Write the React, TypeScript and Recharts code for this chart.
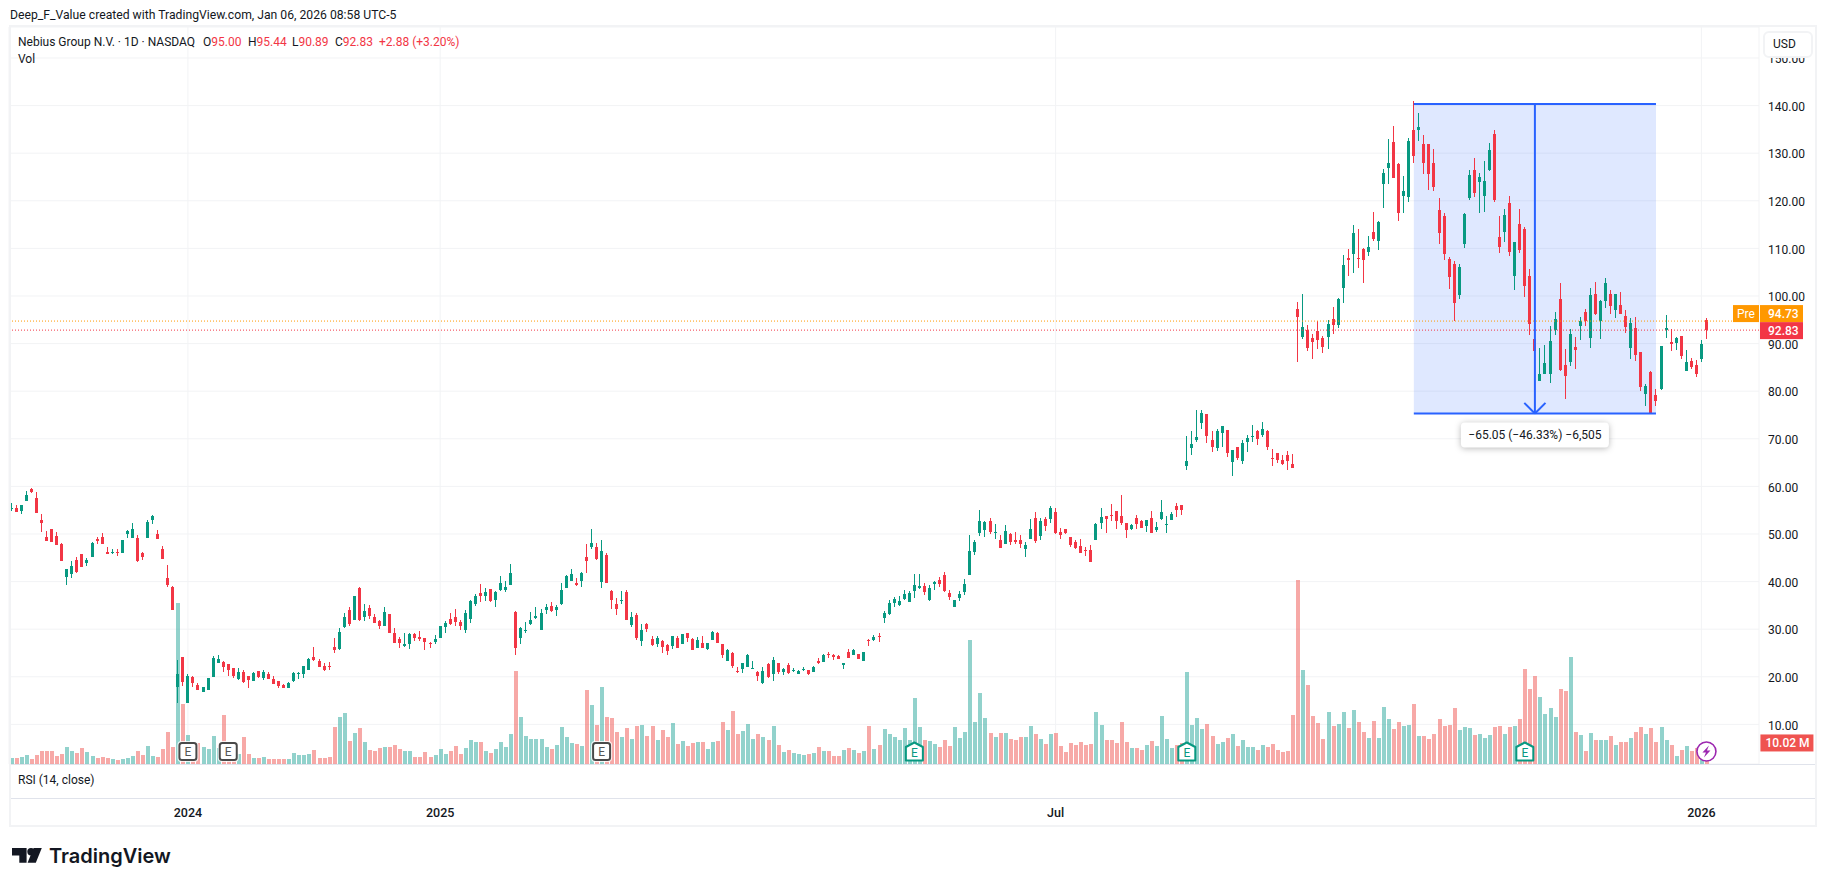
import { Bar, CartesianGrid, ComposedChart, ReferenceArea, ReferenceDot, ReferenceLine, XAxis, YAxis } from "recharts";

// [open, high, low, close], one row per trading day
const ohlc = [
  [55.2,56.5,54.9,55.5],[55.5,56.0,54.7,54.7],[54.8,56.1,54.1,56.1],[57.0,59.0,57.0,58.2],[59.5,59.6,58.6,58.8],
  [57.6,58.8,54.5,54.5],[52.95,54.1,50.5,52.3],[49.4,50.6,48.5,48.5],[51.1,51.1,48.3,48.3],[49.6,50.4,47.7,47.7],
  [47.9,48.05,44.3,44.4],[41.05,42.65,39.2,42.65],[41.5,44.3,40.85,43.3],[44.55,45.1,41.9,42.0],[45.8,45.8,43.15,43.15],
  [43.9,45.0,43.35,44.55],[45.25,48.25,45.25,48.1],[49.0,49.4,48.0,48.6],[49.4,50.15,48.0,48.0],[46.2,47.3,45.9,45.9],
  [46.1,46.85,45.7,46.3],[46.2,46.8,45.45,46.1],[46.1,48.75,46.1,48.75],[50.1,50.9,49.15,50.65],[49.25,52.3,49.25,51.05],
  [49.15,49.7,44.2,44.35],[46.0,46.2,44.6,45.15],[49.25,52.95,49.25,52.5],[52.95,54.0,52.0,53.8],[50.0,50.8,49.0,49.0],
  [46.85,47.5,44.75,44.85],[40.75,43.5,38.95,39.3],[38.95,39.1,34.1,34.1],[17.95,23.55,14.4,20.6],[24.2,24.2,18.15,19.0],
  [14.4,20.6,14.4,20.2],[20.0,20.2,17.95,18.7],[18.3,18.65,17.3,17.3],[16.9,17.9,16.9,17.9],[17.3,19.75,17.3,19.75],
  [20.05,24.4,20.05,24.0],[23.0,24.6,22.8,23.75],[23.1,23.25,21.1,22.15],[22.7,22.7,20.25,21.5],[21.85,21.85,19.75,20.2],
  [19.55,21.85,19.4,21.0],[21.0,21.45,18.8,19.0],[20.2,20.2,17.7,19.35],[19.2,21.0,19.15,20.8],[21.25,21.25,19.75,20.0],
  [19.75,21.45,19.4,21.0],[20.6,21.0,19.55,19.55],[19.55,20.2,18.55,18.55],[19.15,19.15,17.75,18.1],[18.3,18.45,17.75,17.75],
  [17.75,18.95,17.75,18.7],[19.15,21.0,19.0,20.8],[20.7,21.0,19.55,20.9],[20.6,22.3,19.75,22.3],[21.45,23.9,21.45,23.75],
  [24.2,26.3,23.35,23.55],[23.35,23.75,22.1,22.15],[22.3,22.9,21.3,21.45],[22.3,23.1,21.45,22.1],[26.3,28.2,25.0,25.65],
  [25.8,30.3,25.65,29.45],[30.5,33.35,30.3,32.6],[34.05,34.7,30.75,31.1],[31.95,37.0,31.95,37.0],[38.75,38.9,31.75,31.95],
  [32.6,35.3,31.75,33.85],[34.5,35.1,32.15,32.8],[32.6,33.2,31.3,31.3],[31.75,31.95,30.05,30.7],[30.7,34.7,30.7,33.65],
  [33.2,33.2,29.2,29.2],[29.2,30.3,27.1,27.1],[27.95,28.4,26.05,27.1],[26.5,29.1,26.3,26.9],[26.9,29.1,25.85,28.9],
  [29.0,29.2,27.55,28.15],[28.4,29.6,27.55,27.95],[28.15,28.15,25.65,27.35],[27.1,27.35,26.05,26.9],[27.35,28.8,26.9,27.95],
  [28.15,30.7,28.15,30.7],[30.5,31.75,29.2,31.3],[32.15,33.4,30.9,31.0],[32.55,34.25,30.7,31.5],[31.5,31.95,29.85,30.7],
  [29.85,34.05,29.2,33.4],[32.15,36.15,31.3,35.95],[35.3,37.4,34.9,37.0],[37.6,39.5,35.7,37.0],[37.0,38.65,35.95,37.8],
  [38.45,38.45,35.7,35.95],[36.15,38.0,34.7,37.8],[38.25,41.2,38.0,39.7],[38.25,40.1,37.8,38.85],[39.3,43.7,39.3,41.8],
  [33.6,33.85,24.6,26.05],[28.15,30.45,26.9,30.25],[29.65,31.5,29.2,29.85],[31.1,33.6,30.9,31.95],[32.35,34.65,32.15,32.8],
  [29.85,34.25,29.85,33.4],[34.05,35.3,33.2,34.65],[34.9,35.7,33.6,33.85],[34.05,35.1,32.8,34.65],[35.3,39.7,35.1,38.25],
  [38.65,41.4,38.65,41.2],[40.15,42.65,40.15,41.6],[39.7,40.75,39.1,39.3],[40.15,42.0,38.85,41.8],[45.15,47.9,41.8,44.3],
  [47.25,51.05,46.85,48.1],[47.25,48.1,44.55,44.75],[39.9,48.75,38.65,46.45],[45.6,46.0,39.7,39.7],[38.05,38.25,34.25,36.15],
  [35.3,36.55,33.0,34.25],[35.95,38.05,35.3,36.15],[37.8,38.25,31.95,31.95],[30.9,33.6,30.45,32.55],[33.0,33.4,27.75,28.15],
  [27.55,31.1,26.5,29.85],[31.1,31.3,29.4,30.05],[27.95,28.55,26.5,26.7],[26.9,28.55,26.25,28.15],[27.55,27.75,25.0,26.25],
  [26.7,26.9,24.6,25.45],[26.5,28.55,25.85,28.55],[28.15,28.55,26.05,26.05],[26.9,29.0,26.9,29.0],[29.2,29.2,27.3,28.15],
  [27.95,28.15,25.65,25.65],[26.05,28.35,26.05,27.75],[27.1,28.55,26.05,26.05],[25.85,27.1,25.65,27.1],[27.75,29.65,27.75,29.4],
  [29.2,29.4,27.1,27.1],[26.9,26.9,23.95,24.6],[23.3,25.85,23.3,25.65],[25.0,25.2,21.85,22.3],[21.25,22.05,20.8,21.0],
  [21.65,22.9,20.8,22.9],[22.05,24.8,22.05,24.6],[21.65,23.3,21.65,21.85],[21.0,21.25,19.15,20.2],[18.7,22.05,18.5,21.25],
  [22.7,22.9,19.75,20.0],[20.6,24.15,19.15,23.55],[22.9,22.9,20.6,21.0],[21.0,21.85,20.4,21.65],[22.5,22.9,20.6,20.8],
  [21.25,21.85,21.0,21.45],[20.6,21.45,20.6,21.25],[21.45,22.05,21.25,21.65],[21.45,21.45,20.4,20.6],[21.0,22.3,21.0,22.05],
  [23.35,23.95,22.7,22.9],[23.1,24.8,23.1,24.6],[24.8,25.2,23.95,24.6],[24.6,24.8,23.55,24.15],[24.4,24.6,23.75,23.75],
  [22.5,22.9,21.65,22.9],[25.2,25.85,23.95,23.95],[24.6,25.85,24.6,25.65],[24.8,24.8,23.75,23.75],[23.3,25.2,23.3,25.2],
  [27.75,27.95,26.5,27.55],[27.75,28.8,27.55,28.35],[28.55,29.2,27.3,28.35],[32.35,33.85,31.3,33.4],[33.2,36.15,33.0,35.5],
  [35.5,36.75,34.7,36.35],[35.1,37.0,34.9,35.95],[36.35,38.25,36.15,37.4],[35.7,38.05,35.7,37.6],[38.05,41.6,36.55,39.3],
  [38.65,41.6,38.45,39.1],[39.1,39.7,37.2,37.85],[36.15,39.3,35.95,38.65],[39.5,40.15,38.25,39.95],[40.35,40.95,38.9,39.5],
  [41.4,42.0,37.85,38.05],[37.6,38.25,36.15,36.75],[34.7,36.15,34.7,36.15],[36.55,38.05,35.95,37.4],[37.85,40.55,37.2,39.5],
  [41.4,49.8,41.4,46.45],[46.25,48.75,45.6,48.35],[50.2,55.05,49.6,52.75],[50.85,52.75,49.4,52.5],[52.75,53.35,50.0,50.4],
  [50.2,52.1,49.0,50.4],[48.75,49.8,47.05,47.05],[47.9,51.9,47.9,50.65],[50.0,50.2,47.7,48.35],[48.75,50.4,47.9,48.35],
  [48.75,49.8,47.05,47.9],[46.85,48.35,45.2,47.7],[48.95,53.15,48.95,51.05],[53.35,54.6,48.1,48.55],[49.6,53.35,48.75,52.75],
  [53.15,53.55,50.65,51.7],[53.15,55.9,52.3,55.45],[54.6,55.45,50.0,50.2],[50.4,51.25,49.0,49.8],[51.05,51.05,50.0,50.2],
  [49.4,49.4,47.3,47.7],[48.35,48.75,46.85,47.05],[47.5,48.95,46.0,46.0],[46.65,47.3,45.4,46.45],[46.65,47.7,44.15,44.15],
  [48.75,52.3,48.75,52.1],[52.3,55.45,51.05,53.55],[53.8,53.8,50.2,53.15],[54.0,56.3,52.75,53.8],[54.85,54.85,51.05,52.75],
  [53.8,58.2,51.9,52.3],[52.3,52.3,49.2,50.85],[51.05,52.1,50.85,51.9],[53.35,54.0,51.05,52.1],[52.75,52.95,51.25,51.25],
  [51.7,52.95,50.4,52.95],[53.35,54.85,50.2,50.2],[50.85,52.5,50.4,51.45],[53.15,57.15,52.95,54.65],[51.9,53.8,50.2,52.1],
  [52.95,54.65,52.95,54.2],[55.9,56.5,53.55,55.05],[56.1,56.1,54.0,55.05],[64.3,70.6,63.45,65.35],[68.05,71.65,66.6,68.9],
  [69.75,76.05,69.35,70.4],[73.3,76.05,72.05,75.4],[75.2,75.2,69.1,70.6],[69.75,71.65,67.25,68.3],[68.05,72.05,67.45,71.65],
  [71.2,72.7,68.3,72.7],[71.85,71.85,66.2,67.0],[65.15,67.65,62.2,67.65],[68.3,68.3,65.55,65.95],[65.35,69.75,64.7,69.1],
  [69.35,70.8,67.25,70.15],[70.4,72.9,69.35,70.6],[71.65,71.85,68.7,69.95],[70.8,73.55,70.4,72.05],[71.65,71.85,67.65,68.3],
  [65.95,67.85,64.3,65.75],[67.0,67.0,64.9,65.55],[65.55,66.6,64.5,64.7],[66.6,67.45,63.45,65.35],[64.7,66.8,63.85,63.85],
  [97.3,98.75,86.15,95.6],[91.4,100.45,91.0,93.5],[92.9,93.95,88.5,89.1],[91.2,92.05,86.8,90.35],[92.7,94.75,88.9,90.8],
  [91.2,91.6,88.05,89.3],[91.4,95.0,88.9,94.15],[95.2,97.7,92.05,93.95],[93.95,99.6,93.3,99.4],[101.7,108.65,98.55,106.55],
  [108.0,109.9,104.2,107.6],[108.85,114.95,104.85,113.25],[108.0,114.1,105.9,107.8],[109.9,110.1,102.75,107.6],[109.25,112.6,108.4,110.3],
  [113.45,117.65,111.55,112.0],[111.55,115.8,109.7,115.55],[123.5,126.7,118.5,125.85],[126.9,133.0,123.5,127.95],[132.35,135.7,124.8,124.8],
  [127.75,127.95,115.8,117.45],[121.0,125.2,117.45,122.05],[120.8,133.2,119.75,132.55],[134.9,140.95,127.95,129.4],[134.9,138.45,132.55,135.5],
  [131.95,133.85,125.65,127.95],[131.95,131.95,122.3,125.65],[127.95,130.9,122.05,122.9],[118.1,120.6,110.95,113.25],[116.8,117.45,107.6,108.85],
  [107.8,108.2,101.5,104.0],[106.75,107.35,94.8,98.55],[100.25,106.75,99.4,106.1],[110.95,117.45,110.1,117.25],[120.6,126.5,120.2,125.45],
  [126.5,129.0,120.8,121.65],[123.95,125.85,117.45,125.0],[121.0,128.35,117.65,124.15],[126.5,132.15,126.3,130.7],[134.05,134.9,119.75,120.2],
  [112.4,116.8,109.05,110.3],[113.45,118.3,111.35,117.05],[119.55,121.0,108.4,109.25],[104.2,111.35,101.3,111.35],[115.15,118.3,109.05,109.7],
  [114.1,114.5,99.8,102.1],[104.2,105.7,91.8,94.15],[90.95,91.6,84.45,88.45],[82.15,89.1,82.15,83.6],[83.6,89.7,83.6,85.95],
  [83.6,93.7,81.75,90.55],[92.85,96.65,91.8,95.15],[99.35,102.75,84.25,84.45],[85.5,88.85,78.35,83.2],[86.15,93.05,85.3,92.0],
  [89.3,91.4,84.65,88.65],[93.7,95.6,90.75,94.75],[96.65,97.25,93.7,94.75],[91.2,101.7,89.1,100.2],[100.4,102.95,96.0,96.2],
  [94.75,99.15,91.0,98.95],[98.95,103.8,97.5,102.75],[100.4,101.25,96.2,97.9],[97.05,100.4,95.4,100.4],[98.1,100.85,96.2,96.2],
  [95.8,97.05,92.25,93.5],[89.1,95.4,86.8,94.3],[93.3,95.6,86.35,87.6],[88.25,88.25,80.05,80.85],[79.4,81.5,76.9,81.1],
  [84.05,84.25,75.2,75.2],[79.2,80.45,76.9,77.95],[80.45,89.5,80.25,89.5],[92.85,96.0,91.2,93.3],[90.35,93.05,88.45,89.9],
  [90.15,91.4,88.65,91.2],[91.6,91.6,86.75,87.4],[84.25,88.65,84.25,86.15],[86.35,87.0,84.65,85.1],[85.5,86.55,82.95,83.6],
  [86.75,90.75,86.15,89.9],[95.0,95.44,90.89,92.83],
];

// volume in millions
const volumes = [
  2.9,2.9,3.3,4.3,2.4,4.3,6.2,6.2,6.2,3.8,
  4.8,8.1,6.2,5.2,7.6,5.7,3.8,2.9,3.3,2.9,
  2.4,1.9,2.4,2.9,3.8,6.2,4.3,8.6,3.8,3.3,
  7.1,15.2,8.1,76.7,28.6,13.8,9.5,9.8,8.1,7.1,
  13.3,7.6,23.3,10.2,9.0,4.8,12.9,4.8,2.9,2.9,
  3.3,2.4,2.4,2.4,2.4,2.4,5.2,4.3,4.3,4.8,
  6.7,2.9,2.9,3.3,17.6,22.4,24.3,11.0,14.8,17.1,
  10.5,6.7,6.2,7.6,8.1,8.1,9.0,7.1,6.2,6.2,
  3.3,3.3,5.7,3.3,4.3,7.1,4.8,6.2,8.6,4.8,
  7.6,11.4,10.5,10.5,6.2,5.2,7.1,10.5,8.1,14.3,
  44.3,22.4,13.3,11.9,11.9,11.9,8.1,7.1,9.0,17.6,
  12.9,10.0,9.5,8.6,35.2,28.1,18.6,36.7,22.4,21.9,
  15.2,12.9,17.1,11.9,18.1,18.6,13.3,18.1,11.4,16.2,
  12.9,19.5,9.5,11.0,8.6,10.0,10.5,10.5,7.1,10.5,
  11.0,20.0,16.2,25.2,14.3,15.7,19.0,11.9,14.3,12.9,
  11.4,18.1,9.0,5.7,6.7,5.2,4.8,4.3,4.8,5.2,
  8.1,6.2,6.2,3.8,3.8,6.7,7.6,6.7,5.2,6.2,
  18.1,7.1,9.0,16.7,14.3,12.9,11.4,17.1,11.4,31.4,
  17.6,11.4,11.0,9.5,8.1,11.4,8.6,17.6,12.4,15.2,
  59.0,20.0,33.8,21.9,14.8,12.9,14.8,14.8,11.9,11.4,
  12.9,12.9,18.1,14.3,11.9,9.5,14.3,14.8,8.6,5.7,
  10.0,9.0,10.5,9.0,9.5,24.8,18.6,11.4,11.4,10.0,
  20.0,10.5,7.6,7.6,6.7,9.0,11.0,8.6,22.9,11.9,
  7.6,9.0,10.0,43.8,18.6,21.9,16.7,19.0,13.3,9.5,
  10.5,12.4,14.3,8.6,11.4,8.1,8.1,6.7,9.0,8.1,
  9.5,6.7,5.7,6.2,23.3,87.6,44.8,37.6,22.9,19.5,
  11.9,24.8,18.1,19.0,24.8,17.1,25.7,20.0,15.2,12.4,
  20.5,12.4,27.1,21.4,16.7,20.0,18.1,18.6,28.6,13.3,
  13.3,11.9,14.3,21.4,18.1,18.6,26.7,16.2,17.6,17.1,
  13.8,14.3,12.4,13.8,17.6,18.1,14.3,17.6,18.1,21.4,
  45.2,35.7,41.9,31.9,23.8,26.7,22.4,35.7,34.8,51.0,
  15.2,13.8,6.2,14.8,11.4,11.4,11.4,13.3,9.0,10.5,
  10.5,12.4,15.2,17.6,14.3,17.1,10.5,17.6,11.4,9.0,
  3.8,6.7,8.6,6.2,7.6,6.0,10.02,
];

// g = close above previous close, r = below
const volumeSides = [
  "grggrrrrrr","rggrrggrrr","grgggrrggr","rrrgrgrrgg","ggrrrgrrgr","grrrrggggg","rrrrrggrgr","grrrgrrrgg",
  "rrrrgggrrr","gggrgrgggg","rggggggrgg","ggrgrgrgrr","rgrgrgrrgr","rgrgrrgrgg","rrgrrgggrg","rgrgrgggrg",
  "rgrrrgrgrg","rgrggggggg","grggrrrggg","ggggrgrgrr","rggrgrgrrr","rrrrrggrrr","rrgrrgrggg","grrggggrrg",
  "grgrgggrgr","rrrrrrgrrr","rgrggrgrrg","rgggrrggrg","rrrrrrrggg","rgggrrgrgr","rrrggggrrg","rgrgrggrgr",
  "rgrrgrrggr","grgrrgr",
].join("");

const priceTicks = [10, 20, 30, 40, 50, 60, 70, 80, 90, 100, 110, 120, 130, 140, 150];
const timeTicks = [35, 85, 207, 335];
const timeLabels = ["2024", "2025", "Jul", "2026"];
const earningsPast = [35, 43, 117];
const earningsNew = [179, 233, 300];

const rows = ohlc.map(([open, high, low, close], i) => ({
  i, open, high, low, close, volume: volumes[i], side: volumeSides[i],
}));

const UP = "#089981";
const DOWN = "#F23645";
const INK = "#131722";
const BLUE = "#2962FF";
const FONT = "Roboto, sans-serif";

function Candle(props: any) {
  const { x, y, width, height, payload } = props;
  const { open, high, low, close } = payload;
  const perUnit = height / (high - low || 1);
  const cx = Math.floor(x + width / 2);
  const top = y + (high - Math.max(open, close)) * perUnit;
  const bodyH = Math.max(Math.abs(open - close) * perUnit, 1);
  const color = close >= open ? UP : DOWN;
  return (
    <g shapeRendering="crispEdges">
      <rect x={cx} y={y} width={1} height={Math.max(height, 1)} fill={color} />
      <rect x={cx - 1} y={top} width={3} height={bodyH} fill={color} />
    </g>
  );
}

function VolumeBar(props: any) {
  const { x, y, width, height, payload } = props;
  return (
    <rect
      x={Math.round(x)} y={y} width={width} height={height}
      shapeRendering="crispEdges"
      fill={payload.side === "g" ? "rgba(38,166,154,0.5)" : "rgba(239,83,80,0.5)"}
    />
  );
}

function EarningsBox({ cx, cy }: any) {
  return (
    <g>
      <rect x={cx - 10.5} y={cy - 10.5} width={21} height={21} rx={4} fill="#fff" fillOpacity={0.8} />
      <rect x={cx - 8.5} y={cy - 8.5} width={17} height={17} rx={2.5} fill="#fff" stroke="#4A4A4A" strokeWidth={2} />
      <text x={cx} y={cy + 4.5} textAnchor="middle" fontSize={12} fontFamily={FONT} fill="#555">E</text>
    </g>
  );
}

function EarningsHouse({ cx, cy }: any) {
  return (
    <g>
      <path
        d={`M${cx - 8.5} ${cy - 4.5}L${cx} ${cy - 9}L${cx + 8.5} ${cy - 4.5}V${cy + 9}H${cx - 8.5}Z`}
        fill="#fff" stroke={UP} strokeWidth={2} strokeLinejoin="round"
      />
      <text x={cx} y={cy + 5.5} textAnchor="middle" fontSize={12} fontFamily={FONT} fill={UP}>E</text>
    </g>
  );
}

function Bolt({ cx, cy }: any) {
  return (
    <g>
      <circle cx={cx} cy={cy} r={9.5} fill="#fff" stroke="#9C27B0" strokeWidth={1.6} />
      <path
        d={`M${cx + 2.5} ${cy - 6}L${cx - 4} ${cy + 1}H${cx - 0.5}L${cx - 2.5} ${cy + 6}L${cx + 4} ${cy - 1}H${cx + 0.5}Z`}
        fill="#9C27B0"
      />
    </g>
  );
}

function MeasureTag({ cx, cy }: any) {
  return (
    <g>
      <rect
        x={cx - 74} y={cy - 12.5} width={148} height={25} rx={4} fill="#fff"
        style={{ filter: "drop-shadow(0 1px 3px rgba(0,0,0,0.28))" }}
      />
      <text x={cx} y={cy + 4} textAnchor="middle" fontSize={12} fontFamily={FONT} fill={INK}>
        −65.05 (−46.33%) −6,505
      </text>
    </g>
  );
}

function PriceTag({ viewBox, text, fill, pre, shift }: any) {
  const right = viewBox.x + viewBox.width;
  const y = viewBox.y + shift;
  return (
    <g>
      {pre && <rect x={right - 26} y={y - 8.5} width={26} height={17} fill={fill} />}
      {pre && <text x={right - 13} y={y + 4.5} textAnchor="middle" fontSize={12} fontFamily={FONT} fill="#fff">Pre</text>}
      <rect x={right + 1} y={y - 8.5} width={43} height={17} fill={fill} />
      <text x={right + 9} y={y + 4.5} fontSize={12} fontWeight={500} fontFamily={FONT} fill="#fff">{text}</text>
    </g>
  );
}

function VolumeTag({ cx, cy }: any) {
  return (
    <g>
      <rect x={cx + 54} y={cy - 8.5} width={53} height={17} fill="#EF5350" />
      <text x={cx + 59} y={cy + 4.5} fontSize={12} fontWeight={500} fontFamily={FONT} fill="#fff">10.02 M</text>
    </g>
  );
}

const text = (left: number, top: number, extra = {}) => ({
  position: "absolute" as const, left, top, fontFamily: FONT, fontSize: 12, color: INK,
  lineHeight: "14px", whiteSpace: "nowrap" as const, ...extra,
});

export default function App() {
  const ids = { xAxisId: "price", yAxisId: "price" };
  const volIds = { xAxisId: "vol", yAxisId: "vol" };
  return (
    <div style={{ position: "absolute", left: 0, top: 0, width: 1827, height: 886, background: "#fff", overflow: "hidden" }}>
      <ComposedChart
        width={1827} height={886} data={rows}
        margin={{ top: 27, left: 9, right: 10, bottom: 74 }}
        style={{ position: "absolute", left: 0, top: 0 }}
      >
        <CartesianGrid {...ids} stroke="#F2F3F5" />
        <XAxis
          xAxisId="price" type="number" dataKey="i" domain={[-0.46, 346.42]} allowDataOverflow
          ticks={timeTicks} interval={0} height={48} axisLine={false} tickLine={false} tickMargin={38}
          tickFormatter={(v: number) => timeLabels[timeTicks.indexOf(v)]}
          tick={{ fontSize: 12.5, fontFamily: FONT, fill: INK, fontWeight: 500 }}
        />
        <XAxis xAxisId="vol" type="number" dataKey="i" domain={[-0.46, 346.42]} allowDataOverflow hide />
        <YAxis
          yAxisId="price" orientation="right" width={58} domain={[1.68, 156.51]} allowDataOverflow
          ticks={priceTicks} interval={0} axisLine={false} tickLine={false} tickMargin={3}
          tickFormatter={(v: number) => v.toFixed(2)}
          tick={{ fontSize: 12, fontFamily: FONT, fill: INK, dy: 1 }}
        />
        <YAxis yAxisId="vol" domain={[0, 351]} allowDataOverflow hide width={0} />

        <ReferenceArea {...ids} x1={278} x2={326} y1={75.3} y2={140.35} fill={BLUE} fillOpacity={0.15} stroke="none" />

        <Bar {...volIds} dataKey="volume" barSize={4} shape={VolumeBar} isAnimationActive={false} />
        <Bar {...ids} dataKey={(d: any) => [d.low, d.high]} barSize={3} shape={Candle} isAnimationActive={false} />

        <ReferenceLine {...ids} y={94.73} stroke="#FF9800" strokeDasharray="1 2" label={<PriceTag text="94.73" fill="#FF9800" pre shift={-7.5} />} />
        <ReferenceLine {...ids} y={92.83} stroke={DOWN} strokeDasharray="1 2" label={<PriceTag text="92.83" fill={DOWN} shift={0.5} />} />

        <ReferenceLine {...ids} segment={[{ x: 278, y: 140.35 }, { x: 326, y: 140.35 }]} stroke={BLUE} strokeWidth={2} />
        <ReferenceLine {...ids} segment={[{ x: 278, y: 75.3 }, { x: 326, y: 75.3 }]} stroke={BLUE} strokeWidth={2} />
        <ReferenceLine {...ids} segment={[{ x: 302, y: 140.35 }, { x: 302, y: 75.3 }]} stroke={BLUE} strokeWidth={2} />
        <ReferenceLine {...ids} segment={[{ x: 299.9, y: 77.55 }, { x: 302, y: 75.3 }]} stroke={BLUE} strokeWidth={2} />
        <ReferenceLine {...ids} segment={[{ x: 304.1, y: 77.55 }, { x: 302, y: 75.3 }]} stroke={BLUE} strokeWidth={2} />
        <ReferenceDot {...ids} x={302} y={70.8} shape={MeasureTag} ifOverflow="visible" />

        {earningsPast.map((i) => (
          <ReferenceDot key={i} {...volIds} x={i} y={5.95} shape={EarningsBox} ifOverflow="visible" />
        ))}
        {earningsNew.map((i) => (
          <ReferenceDot key={i} {...volIds} x={i} y={5.95} shape={EarningsHouse} ifOverflow="visible" />
        ))}
        <ReferenceDot {...volIds} x={336} y={5.95} shape={Bolt} ifOverflow="visible" />
        <ReferenceDot {...volIds} x={336} y={10.02} shape={VolumeTag} ifOverflow="visible" />
      </ComposedChart>

      {/* frame and pane separators */}
      <div style={{ position: "absolute", left: 9, top: 25, width: 1804, height: 798, border: "2px solid #F2F3F5", pointerEvents: "none" }} />
      <div style={{ position: "absolute", left: 11, top: 764, width: 1804, height: 1, background: "#E0E3EB" }} />
      <div style={{ position: "absolute", left: 11, top: 798, width: 1804, height: 1, background: "#E0E3EB" }} />

      <div style={text(10, 8, { fontSize: 12.2 })}>Deep_F_Value created with TradingView.com, Jan 06, 2026 08:58 UTC-5</div>

      <div style={text(18, 35)}>Nebius Group N.V. · 1D · NASDAQ</div>
      <div style={text(203, 35)}>O<span style={{ color: DOWN }}>95.00</span></div>
      <div style={text(248, 35)}>H<span style={{ color: DOWN }}>95.44</span></div>
      <div style={text(292, 35)}>L<span style={{ color: DOWN }}>90.89</span></div>
      <div style={text(335, 35)}>C<span style={{ color: DOWN }}>92.83</span></div>
      <div style={text(379, 35, { color: DOWN })}>+2.88 (+3.20%)</div>
      <div style={text(18, 52)}>Vol</div>
      <div style={text(18, 773)}>RSI (14, close)</div>

      <div style={{
        position: "absolute", left: 1763, top: 31, width: 38, height: 23, borderRadius: 6,
        border: "2px solid #F2F3F5", background: "#fff", fontFamily: FONT, fontSize: 12, color: INK,
        lineHeight: "23px", paddingLeft: 8,
      }}>USD</div>

      {/* TradingView logo */}
      <svg style={{ position: "absolute", left: 12, top: 846 }} width={32} height={18}>
        <path d="M0 2h14.6v14.7h-7.3V9.4H0z" fill={INK} />
        <circle cx={19} cy={5.7} r={3.7} fill={INK} />
        <path d="M29.8 2l-6 14.7h-8.2l6-14.7z" fill={INK} />
      </svg>
      <div style={{ position: "absolute", left: 49, top: 842, fontFamily: "Inter, sans-serif", fontWeight: 600, fontSize: 20, lineHeight: "28px", color: INK }}>
        TradingView
      </div>
    </div>
  );
}
